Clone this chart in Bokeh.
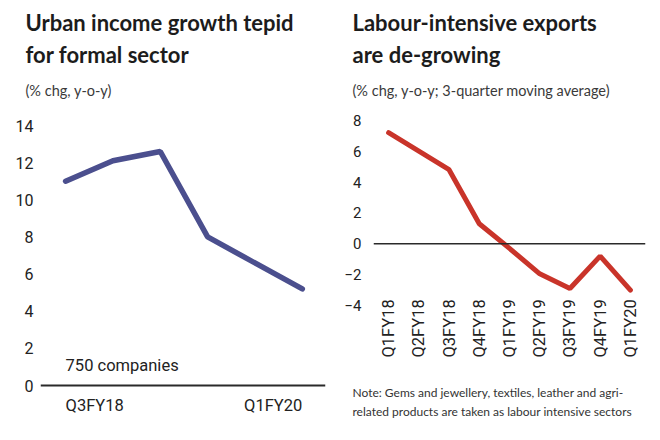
import math
from bokeh.plotting import figure
from bokeh.layouts import row
from bokeh.models import Range1d, FactorRange, FixedTicker, Span, Title
from bokeh.core.properties import value
from bokeh.embed import file_html
from bokeh.resources import INLINE

# ---- data: left chart (urban income growth, % chg y-o-y) ----
left_pos = [0, 1, 2, 3, 4, 5]
left_values = [11.0, 12.1, 12.6, 8.0, 6.6, 5.2]
left_label_pos = [0, 5]
left_labels = ["Q3FY18", "Q1FY20"]
left_ticks = [0, 2, 4, 6, 8, 10, 12, 14]

# ---- data: right chart (labour-intensive exports, 3q moving avg) ----
quarters = ["Q1FY18", "Q2FY18", "Q3FY18", "Q4FY18", "Q1FY19",
            "Q2FY19", "Q3FY19", "Q4FY19", "Q1FY20"]
right_values = [7.2, 6.0, 4.8, 1.3, -0.3, -1.95, -2.9, -0.8, -3.0]
right_ticks = [-4, -2, 0, 2, 4, 6, 8]

TITLE_FONT = "Lato"
TICK_FONT = "Roboto"
DARK = "#1c1c1c"
TXT = "#222222"


def add_titles(p, line1, line2, sub, offset):
    # added closest-to-frame first
    p.add_layout(Title(text=sub, text_font=TITLE_FONT, text_font_size="14.5px",
                       text_font_style="normal", text_color="#3a3a3a",
                       align="left", offset=offset, standoff=27), "above")
    p.add_layout(Title(text=line2, text_font=TITLE_FONT, text_font_size="22px",
                       text_font_style="bold", text_color=DARK,
                       align="left", offset=offset, standoff=-2), "above")
    p.add_layout(Title(text=line1, text_font=TITLE_FONT, text_font_size="22px",
                       text_font_style="bold", text_color=DARK,
                       align="left", offset=offset, standoff=7), "above")


def style(p):
    p.outline_line_color = None
    p.xgrid.visible = False
    p.ygrid.visible = False
    p.background_fill_color = "white"
    p.border_fill_color = "white"
    p.frame_align = False


def style_yaxis(ax, ticks, size, standoff):
    ax.ticker = FixedTicker(ticks=ticks)
    ax.axis_line_color = None
    ax.major_tick_line_color = None
    ax.minor_tick_line_color = None
    ax.major_label_standoff = standoff
    ax.major_label_text_font = TICK_FONT
    ax.major_label_text_font_size = size
    ax.major_label_text_color = TXT


# ---------------- left figure ----------------
p1 = figure(width=338, height=432, x_range=Range1d(-0.53, 5.49),
            y_range=Range1d(-1.99, 14.70), output_backend="svg",
            toolbar_location=None, min_border_left=40, min_border_right=13,
            min_border_bottom=10, min_border_top=112)
style(p1)
p1.xaxis.visible = False
style_yaxis(p1.yaxis[0], left_ticks, "16px", 1)

p1.add_layout(Span(location=0, dimension="width", line_color="#2a2a2a",
                   line_width=2))
p1.line(left_pos, left_values, line_width=5.5, line_color="#4b4f8e",
        line_cap="round")
p1.text(x=[left_label_pos[0]], y=[-1.1], text=[left_labels[0]],
        text_align="left", text_baseline="middle",
        text_font=value(TICK_FONT), text_font_size="16.5px", text_color=TXT)
p1.text(x=[left_label_pos[1]], y=[-1.1], text=[left_labels[1]],
        text_align="right", text_baseline="middle",
        text_font=value(TICK_FONT), text_font_size="16.5px", text_color=TXT)
p1.text(x=[0], y=[1.1], text=["750 companies"], text_align="left",
        text_baseline="middle", text_font=value(TICK_FONT),
        text_font_size="16.5px", text_color=TXT)
add_titles(p1, "Urban income growth tepid", "for formal sector",
           "(% chg, y-o-y)", -15)

# ---------------- right figure ----------------
p2 = figure(width=322, height=432, x_range=FactorRange(*quarters),
            y_range=Range1d(-8.54, 8.51), output_backend="svg",
            toolbar_location=None, min_border_left=35, min_border_right=15,
            min_border_bottom=57, min_border_top=112)
style(p2)
p2.xaxis.visible = False
style_yaxis(p2.yaxis[0], right_ticks, "15px", 6)

p2.add_layout(Span(location=0, dimension="width", line_color="#2a2a2a",
                   line_width=1.5))
p2.line(quarters, right_values, line_width=5, line_color="#c9342a",
        line_cap="round")
p2.text(x=quarters, y=[-3.6] * len(quarters), text=quarters,
        angle=math.pi / 2, text_align="right", text_baseline="middle",
        text_font=value(TICK_FONT), text_font_size="16.5px", text_color=TXT)
p2.add_layout(Title(text="Note: Gems and jewellery, textiles, leather and agri-\n"
                         "related products are taken as labour intensive sectors",
                    text_font=TITLE_FONT, text_font_size="12px",
                    text_font_style="normal", text_color="#333333",
                    text_line_height=1.25,
                    align="left", offset=-21, standoff=14), "below")
add_titles(p2, "Labour-intensive exports", "are de-growing",
           "(% chg, y-o-y; 3-quarter moving average)", -21)

layout = row(p1, p2)
open("out.html", "w").write(file_html(layout, INLINE))
